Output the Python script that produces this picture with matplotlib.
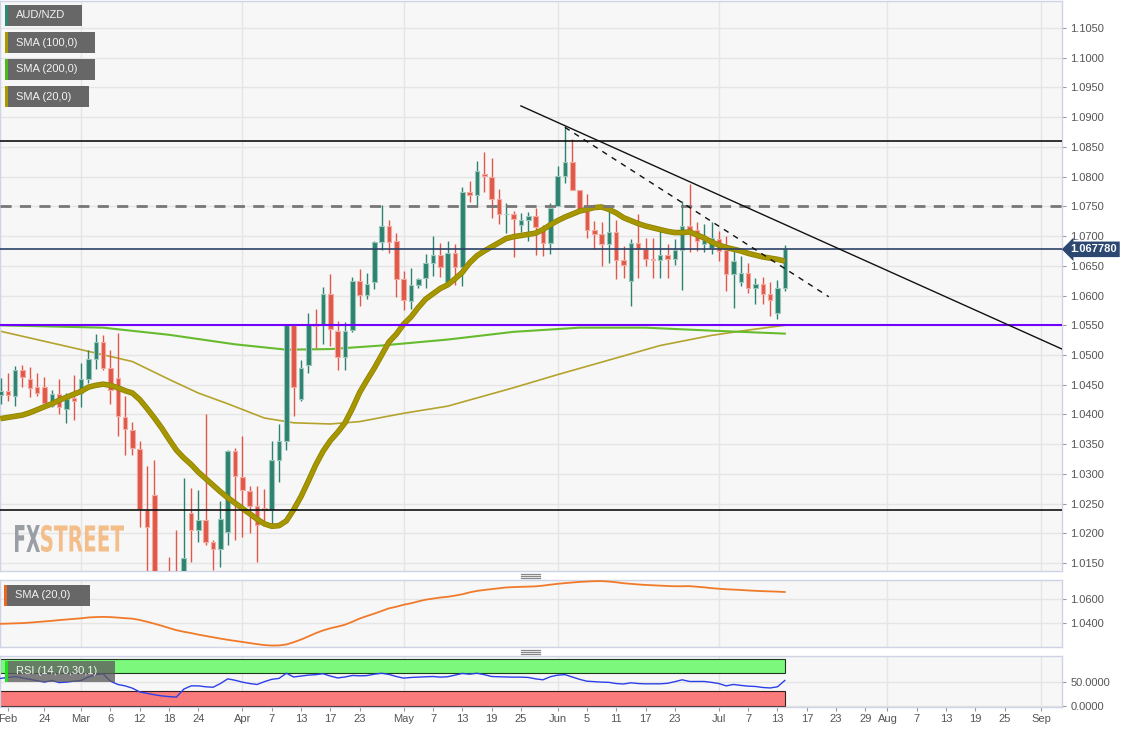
import matplotlib
matplotlib.use('Agg')
import matplotlib.pyplot as plt
import numpy as np
import pandas as pd
from matplotlib.patches import Rectangle, PathPatch
from matplotlib.lines import Line2D
from matplotlib.textpath import TextPath
from matplotlib.font_manager import FontProperties
from matplotlib.transforms import Affine2D
import matplotlib.patheffects as pe
from matplotlib.ticker import FormatStrFormatter, FixedLocator

plt.rcParams['font.family'] = ['Liberation Sans', 'DejaVu Sans']

# ---------------- data ----------------
first_date = '2020-02-14'
opens = [1.0432, 1.0439, 1.0431, 1.0474, 1.0460, 1.0446, 1.0446, 1.0415, 1.0435, 1.0410,
         1.0427, 1.0436, 1.0459, 1.0494, 1.0522, 1.0479, 1.0461, 1.0396, 1.0374, 1.0342,
         1.0240, 1.0265, 1.0110, 1.0100, 1.0120, 1.0090, 1.0235, 1.0206, 1.0223, 1.0186,
         1.0173, 1.0203, 1.0338, 1.0295, 1.0272, 1.0246, 1.0243, 1.0240, 1.0324, 1.0355,
         1.0551, 1.0426, 1.0484, 1.0552, 1.0550, 1.0602, 1.0540, 1.0497, 1.0542, 1.0625,
         1.0601, 1.0623, 1.0690, 1.0717, 1.0692, 1.0628, 1.0591, 1.0618, 1.0629, 1.0654,
         1.0669, 1.0623, 1.0672, 1.0648, 1.0775, 1.0769, 1.0805, 1.0800, 1.0762, 1.07366,
         1.0738, 1.0718, 1.0727, 1.0734, 1.0715, 1.0689, 1.0751, 1.0801, 1.0825, 1.0777,
         1.0742, 1.0711, 1.0704, 1.0686, 1.0707, 1.0660, 1.0625, 1.0688, 1.0678, 1.0662,
         1.0659, 1.0669, 1.0662, 1.0676, 1.0717, 1.0711, 1.0686, 1.0680, 1.0696, 1.0676,
         1.0636, 1.0623, 1.0638, 1.0613, 1.0619, 1.0602, 1.0571, 1.0613]
highs = [1.0462, 1.0470, 1.0482, 1.0484, 1.0480, 1.0470, 1.0463, 1.0442, 1.0460, 1.0436,
         1.0467, 1.0487, 1.0508, 1.0536, 1.0533, 1.0509, 1.0537, 1.0431, 1.0387, 1.0355,
         1.0314, 1.0324, 1.0128, 1.0160, 1.0206, 1.0293, 1.0277, 1.0273, 1.0400, 1.0189,
         1.0254, 1.0340, 1.0343, 1.0363, 1.0279, 1.0279, 1.0274, 1.0355, 1.0384, 1.0551,
         1.0551, 1.0492, 1.0570, 1.0577, 1.0615, 1.0636, 1.0557, 1.0555, 1.0632, 1.0644,
         1.0638, 1.0692, 1.0753, 1.0727, 1.0705, 1.0641, 1.0647, 1.0629, 1.0670, 1.0700,
         1.0689, 1.0691, 1.0687, 1.0782, 1.0792, 1.0827, 1.0842, 1.0831, 1.0780, 1.0755,
         1.0742, 1.0739, 1.0741, 1.0747, 1.0719, 1.0755, 1.0818, 1.0885, 1.0863, 1.0778,
         1.0771, 1.0725, 1.0723, 1.0745, 1.0727, 1.0684, 1.0695, 1.0737, 1.0697, 1.0697,
         1.0709, 1.0687, 1.0696, 1.0759, 1.0788, 1.0723, 1.0720, 1.0723, 1.0709, 1.0700,
         1.0678, 1.0666, 1.0655, 1.0629, 1.0631, 1.0623, 1.0627, 1.0685]
lows = [1.0417, 1.0422, 1.0414, 1.0447, 1.0429, 1.0431, 1.0416, 1.0413, 1.0400, 1.0386,
        1.0390, 1.0413, 1.0453, 1.0477, 1.0475, 1.0418, 1.0363, 1.0332, 1.0332, 1.0211,
        1.0120, 1.0090, 1.0040, 1.0030, 1.0050, 1.0070, 1.0152, 1.0186, 1.0180, 1.0138,
        1.0144, 1.0181, 1.0189, 1.0194, 1.0200, 1.0152, 1.0214, 1.0214, 1.0287, 1.0341,
        1.0397, 1.0422, 1.0470, 1.0512, 1.0519, 1.0515, 1.0475, 1.0474, 1.0538, 1.0583,
        1.0595, 1.0611, 1.0677, 1.0672, 1.0598, 1.0575, 1.0577, 1.0613, 1.0613, 1.0633,
        1.0632, 1.0623, 1.0618, 1.0616, 1.0758, 1.0752, 1.0775, 1.0730, 1.0720, 1.0706,
        1.0665, 1.0707, 1.0692, 1.0668, 1.0666, 1.0670, 1.0751, 1.0790, 1.0777, 1.0743,
        1.0697, 1.0678, 1.0650, 1.0655, 1.0628, 1.0630, 1.0582, 1.0630, 1.0650, 1.0630,
        1.0629, 1.0630, 1.0652, 1.0610, 1.0673, 1.0675, 1.0674, 1.0670, 1.0658, 1.0607,
        1.0579, 1.0616, 1.0605, 1.0586, 1.0585, 1.0565, 1.0560, 1.0607]
closes = [1.0440, 1.0432, 1.0475, 1.0463, 1.0445, 1.0436, 1.0419, 1.0435, 1.0412, 1.0426,
          1.0423, 1.0459, 1.0494, 1.0522, 1.0478, 1.0441, 1.0397, 1.0375, 1.0343, 1.0241,
          1.0211, 1.0110, 1.0075, 1.0060, 1.0090, 1.0158, 1.0206, 1.0223, 1.0186, 1.0173,
          1.0225, 1.0338, 1.0296, 1.0273, 1.0246, 1.0214, 1.0240, 1.0324, 1.0355, 1.0551,
          1.0447, 1.0478, 1.0551, 1.0548, 1.0602, 1.0544, 1.0497, 1.0540, 1.0625, 1.0601,
          1.0620, 1.0690, 1.0717, 1.0690, 1.0628, 1.0592, 1.0618, 1.0628, 1.0654, 1.0669,
          1.0648, 1.0672, 1.0648, 1.0775, 1.0769, 1.0810, 1.0801, 1.0762, 1.0738, 1.07377,
          1.0728, 1.0727, 1.0734, 1.0715, 1.0689, 1.0747, 1.0801, 1.0825, 1.0777, 1.0745,
          1.0711, 1.0704, 1.0686, 1.0707, 1.0660, 1.0652, 1.0688, 1.0678, 1.0662, 1.0659,
          1.0669, 1.0662, 1.0676, 1.0717, 1.0711, 1.0691, 1.0693, 1.0696, 1.0675, 1.0636,
          1.0658, 1.0638, 1.0613, 1.0619, 1.0602, 1.0592, 1.0613, 1.06778]

sma20 = [1.0393, 1.0395, 1.0397, 1.0399, 1.0403, 1.0408, 1.0413, 1.0418, 1.0424, 1.0429,
         1.0434, 1.0439, 1.0446, 1.0449, 1.0451, 1.0449, 1.0445, 1.0440, 1.0436, 1.0425,
         1.0410, 1.0394, 1.0377, 1.0358, 1.0340, 1.0327, 1.0316, 1.0303, 1.0292, 1.0281,
         1.0270, 1.0260, 1.0251, 1.0242, 1.0233, 1.0224, 1.0216, 1.0212, 1.0213, 1.0221,
         1.0240, 1.0262, 1.0288, 1.0315, 1.0338, 1.0356, 1.0370, 1.0386, 1.0410, 1.0437,
         1.0458, 1.0478, 1.0500, 1.0522, 1.0535, 1.0552, 1.0564, 1.0580, 1.0594, 1.0603,
         1.0612, 1.0618, 1.0628, 1.0639, 1.0655, 1.0667, 1.0675, 1.0682, 1.0689, 1.0696,
         1.0699, 1.0701, 1.0703, 1.0705, 1.0711, 1.0719, 1.0726, 1.0732, 1.0737, 1.0742,
         1.0745, 1.0748, 1.0749, 1.0745, 1.0739, 1.0731, 1.0726, 1.0721, 1.0717, 1.0714,
         1.0711, 1.0708, 1.0706, 1.0706, 1.0707, 1.0702, 1.0697, 1.0690, 1.0685, 1.0681,
         1.0678, 1.0675, 1.0671, 1.0668, 1.0665, 1.0663, 1.0661, 1.0658]

sma100_dates = ['2020-02-14', '2020-03-02', '2020-03-11', '2020-03-18', '2020-03-24',
                '2020-03-30', '2020-04-06', '2020-04-10', '2020-04-17', '2020-04-23',
                '2020-04-28', '2020-05-01', '2020-05-11', '2020-05-22', '2020-06-01',
                '2020-06-11', '2020-06-19', '2020-06-30', '2020-07-07', '2020-07-14']
sma100_vals = [1.0540, 1.0509, 1.0489, 1.0459, 1.0436, 1.0418, 1.0394, 1.0386, 1.0384, 1.0388,
               1.0395, 1.0402, 1.0414, 1.0445, 1.0467, 1.0495, 1.0516, 1.0533, 1.0542, 1.0550]

sma200_dates = ['2020-02-14', '2020-03-05', '2020-03-18', '2020-03-31', '2020-04-09',
                '2020-04-17', '2020-04-28', '2020-05-11', '2020-05-22', '2020-06-04',
                '2020-06-17', '2020-06-30', '2020-07-14']
sma200_vals = [1.0550, 1.0546, 1.0534, 1.0518, 1.0509, 1.0510, 1.0516, 1.0526, 1.0539, 1.0546,
               1.0546, 1.0541, 1.0536]

rsi = [58, 60, 62, 59, 56, 53, 50, 53.6, 49, 50,
       52, 53.6, 61, 66, 68, 52, 45, 42, 37, 29,
       26, 23, 20.5, 19, 18, 35, 42, 42, 40, 39,
       47, 57, 54, 50, 47, 45, 51, 56, 58, 69,
       61, 63, 65, 66, 68, 63, 59, 61, 64.3, 63.5,
       64, 67, 69, 66.5, 62, 58.6, 60, 60.7, 61.5, 62,
       60.7, 61.5, 65, 68.6, 67, 69, 66, 62, 61.5, 61,
       60.7, 60.7, 60, 57, 55, 61.5, 65, 66, 61, 56,
       52, 51, 50, 49.5, 47, 46, 48.6, 47, 46.4, 46.4,
       46.4, 47.5, 51, 55, 51.4, 51.4, 51.4, 49.5, 47, 42,
       45, 43, 41.4, 40.7, 38.5, 37.5, 40, 53.6]

levels = [1.0860, 1.0750, 1.06778, 1.0550, 1.0240]
level_colors = ['#111111', '#777777', '#2c4265', '#7000ff', '#111111']
level_styles = ['-', '--', '-', '-', '-']
level_widths = [1.2, 2.0, 1.2, 1.5, 1.2]

tl_solid_dates = ['2020-05-25', '2020-09-04']
tl_solid_vals = [1.0919, 1.0509]
tl_dash_dates = ['2020-06-02', '2020-07-22']
tl_dash_vals = [1.0883, 1.0598]

tick_dates = ['2020-02-17', '2020-02-24', '2020-03-02', '2020-03-06', '2020-03-12', '2020-03-18',
              '2020-03-24', '2020-04-01', '2020-04-07', '2020-04-13', '2020-04-17', '2020-04-23',
              '2020-05-01', '2020-05-07', '2020-05-13', '2020-05-19', '2020-05-25', '2020-06-01',
              '2020-06-05', '2020-06-11', '2020-06-17', '2020-06-23', '2020-07-01', '2020-07-07',
              '2020-07-13', '2020-07-17', '2020-07-23', '2020-07-29', '2020-08-03', '2020-08-07',
              '2020-08-13', '2020-08-19', '2020-08-25', '2020-09-01']
tick_labels = ['Feb', '24', 'Mar', '6', '12', '18', '24', 'Apr', '7', '13', '17', '23',
               'May', '7', '13', '19', '25', 'Jun', '5', '11', '17', '23', 'Jul', '7', '13',
               '17', '23', '29', 'Aug', '7', '13', '19', '25', 'Sep']
month_dates = ['2020-03-02', '2020-04-01', '2020-05-01', '2020-06-01', '2020-07-01',
               '2020-08-03', '2020-09-01']

# ---------------- helpers ----------------
cal = pd.bdate_range(first_date, '2020-09-30')
def pos(d):
    return cal.get_loc(pd.Timestamp(d))

n = len(opens)
idx = np.arange(n)
o = np.array(opens); h = np.array(highs); l = np.array(lows); c = np.array(closes)

W, H = 1139, 733
BAR_PX = 7.33
PLOT_W = 1062
fig = plt.figure(figsize=(W / 100, H / 100), dpi=100)
fig.patch.set_facecolor('white')

def rect(x0, y0, x1, y1):
    return [x0 / W, 1 - y1 / H, (x1 - x0) / W, (y1 - y0) / H]

ax = fig.add_axes(rect(0, 1, PLOT_W, 571))
ax2 = fig.add_axes(rect(0, 580, PLOT_W, 647))
ax3 = fig.add_axes(rect(0, 656, PLOT_W, 707))

xl = -0.5 / BAR_PX
xr = xl + PLOT_W / BAR_PX
spine_c = '#cfd3e6'
grid_c = '#e5e5e5'
for a in (ax, ax2, ax3):
    a.set_facecolor('#f7f7f7')
    a.set_xlim(xl, xr)
    for s in a.spines.values():
        s.set_color(spine_c)
        s.set_linewidth(1)
    a.yaxis.tick_right()
    a.tick_params(axis='y', which='both', length=3, color='#999999', labelcolor='#555555',
                  labelsize=8, pad=3, width=0.8)
    a.set_xticks([pos(d) for d in tick_dates])
    for d in month_dates:
        a.axvline(pos(d), color=grid_c, lw=1, zorder=0)
    a.yaxis.grid(True, color=grid_c, lw=1, zorder=0)
    a.set_axisbelow(True)

for a in (ax, ax2):
    a.tick_params(axis='x', length=0, labelbottom=False)
ax3.set_xticklabels(tick_labels)
ax3.tick_params(axis='x', length=3, color='#999999', labelcolor='#555555', labelsize=8, pad=2)

# ---------------- main panel ----------------
ax.set_ylim(1.01367, 1.10955)
ax.yaxis.set_major_locator(FixedLocator(np.arange(1.0150, 1.10551, 0.005)))
ax.yaxis.set_major_formatter(FormatStrFormatter('%.4f'))

up = c >= o
col_up, col_dn = '#2e8370', '#df5849'
edge_up, edge_dn = '#9cc8bb', '#f2aaa1'
body_col = np.where(up, col_up, col_dn)
edge_col = np.where(up, edge_up, edge_dn)
ax.vlines(idx, l, h, colors=body_col, lw=1.0, zorder=3)
ax.bar(idx, np.maximum(np.abs(c - o), 0.00007), bottom=np.minimum(o, c), width=0.62,
       color=body_col, edgecolor=edge_col, linewidth=0.8, zorder=4)

ax.plot([pos(d) for d in sma100_dates], sma100_vals, color='#b4a32c', lw=1.2, zorder=2)
ax.plot([pos(d) for d in sma200_dates], sma200_vals, color='#66bb2e', lw=1.5, zorder=2)
ax.plot(idx, sma20, color='#a69600', lw=3.0, zorder=5, solid_capstyle='butt',
        path_effects=[pe.Stroke(linewidth=4.0, foreground='#8c7f00'), pe.Normal()])

for lv, lc, ls, lw in zip(levels, level_colors, level_styles, level_widths):
    if ls == '--':
        ax.axhline(lv, color=lc, lw=lw, dashes=(4, 3), zorder=6)
    else:
        ax.axhline(lv, color=lc, lw=lw, zorder=6)

ax.plot([pos(d) for d in tl_solid_dates], tl_solid_vals, color='#111111', lw=1.0, zorder=6)
ax.plot([pos(d) for d in tl_dash_dates], tl_dash_vals, color='#111111', lw=1.0,
        dashes=(4, 4), zorder=6)

ax.annotate('%.6f' % closes[-1], xy=(1, closes[-1]), xycoords=('axes fraction', 'data'),
            xytext=(6, 0), textcoords='offset points', va='center', ha='left',
            color='white', fontweight='bold', fontsize=8, annotation_clip=False,
            bbox=dict(boxstyle='larrow,pad=0.25', fc='#2c4770', ec='none'), zorder=10)

# watermark
fp = FontProperties(family='DejaVu Sans', weight='bold')
for txt, x0, x1, colr in (('FX', 15, 40, '#9599a1'), ('STREET', 41, 124, '#f3bb83')):
    tp = TextPath((0, 0), txt, size=100, prop=fp)
    bb = tp.get_extents()
    tr = Affine2D().translate(-bb.x0, -bb.y0).scale((x1 - x0) / bb.width, 27 / bb.height) \
        .translate(x0, H - 552)
    ax.add_patch(PathPatch(tr.transform_path(tp), transform=Affine2D(), fc=colr, ec='none',
                           zorder=1, clip_on=False, alpha=0.95))

# ---------------- SMA panel ----------------
ax2.set_ylim(1.0200, 1.0758)
ax2.yaxis.set_major_locator(FixedLocator([1.04, 1.06]))
ax2.yaxis.set_major_formatter(FormatStrFormatter('%.4f'))
ax2.plot(idx, sma20, color='#f07a2a', lw=1.3, zorder=3)

# ---------------- RSI panel ----------------
ax3.set_ylim(-3.2, 105.9)
ax3.yaxis.set_major_locator(FixedLocator([0, 50]))
ax3.yaxis.set_major_formatter(FormatStrFormatter('%.4f'))
ax3.add_patch(Rectangle((xl, 70), idx[-1] - xl, 30, fc='#7cf87c', ec='#1d3a1d', lw=0.8, zorder=2))
ax3.add_patch(Rectangle((xl, 0), idx[-1] - xl, 30, fc='#fa7b7b', ec='#3a1d1d', lw=0.8, zorder=2))
ax3.plot(idx, rsi, color='#2b3fe8', lw=1.0, zorder=4)

# ---------------- tags / decorations ----------------
def tag(x0, y0, x1, y1, text, stripe, alpha=0.93):
    fig.add_artist(Rectangle((x0 / W, 1 - y1 / H), (x1 - x0) / W, (y1 - y0) / H,
                             transform=fig.transFigure, fc='#5c5c5c', ec='none',
                             alpha=alpha, zorder=20))
    fig.add_artist(Rectangle((x0 / W, 1 - y1 / H), 2.5 / W, (y1 - y0) / H,
                             transform=fig.transFigure, fc=stripe, ec='none', zorder=21))
    fig.text((x0 + 11) / W, 1 - (y0 + y1) / 2 / H, text, color='#f2f2f2', fontsize=8,
             va='center', ha='left', zorder=22)

tag(5, 5, 82, 26, 'AUD/NZD', '#2e8a78')
tag(5, 32, 95, 53, 'SMA (100,0)', '#a89a00')
tag(5, 59, 95, 80, 'SMA (200,0)', '#4fb81e')
tag(5, 86, 89, 107, 'SMA (20,0)', '#a89a00')
tag(4, 585, 90, 606, 'SMA (20,0)', '#e8671e')
tag(5, 661, 115, 682, 'RSI (14,70,30,1)', '#20e020', alpha=0.78)

for yy in (576, 652):
    for dy in (-2, 0, 2):
        fig.add_artist(Line2D([521 / W, 540 / W], [1 - (yy + dy) / H] * 2,
                              transform=fig.transFigure, color='#888888', lw=0.9, zorder=20))

fig.savefig('out.png', dpi=100, facecolor='white')
